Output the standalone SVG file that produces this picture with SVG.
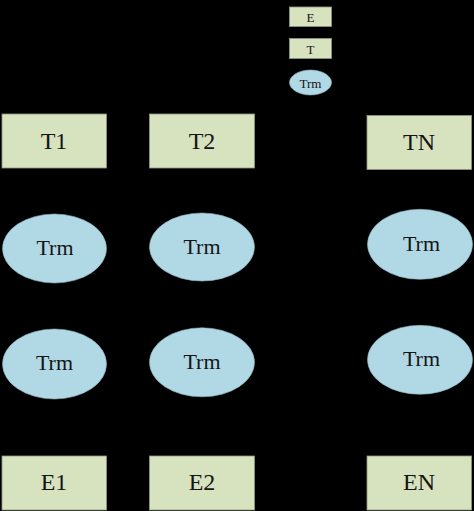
<svg xmlns="http://www.w3.org/2000/svg" width="474" height="511" viewBox="0 0 474 511">
<defs>
<marker id="ah" viewBox="0 0 10 10" refX="9" refY="5" markerWidth="7" markerHeight="7" orient="auto-start-reverse" markerUnits="userSpaceOnUse">
<path d="M0,1 L10,5 L0,9 z" fill="#000"/>
</marker>
<style>
.box{fill:#d7e2bf;stroke:#8f9a7a;stroke-width:0.8}
.trm{fill:#b1d9e5;stroke:#8fb3be;stroke-width:0.6}
.t{font-family:"Liberation Serif","Times New Roman",serif;fill:#151515;text-anchor:middle}
.big{font-size:24px}
.mid{font-size:22px}
.sm{font-size:13px}
.c{stroke:#000;stroke-width:1.2;fill:none;marker-end:url(#ah)}
</style>
</defs>
<rect x="0" y="0" width="474" height="511" fill="#000"/>
<g id="connectors">
<line class="c" x1="54" y1="456" x2="60" y2="400"/>
<line class="c" x1="54" y1="456" x2="207" y2="397"/>
<line class="c" x1="54" y1="456" x2="414" y2="395"/>
<line class="c" x1="202" y1="456" x2="60" y2="400"/>
<line class="c" x1="202" y1="456" x2="207" y2="397"/>
<line class="c" x1="202" y1="456" x2="414" y2="395"/>
<line class="c" x1="419" y1="456" x2="60" y2="400"/>
<line class="c" x1="419" y1="456" x2="207" y2="397"/>
<line class="c" x1="419" y1="456" x2="414" y2="395"/>
<line class="c" x1="54" y1="329" x2="60" y2="284"/>
<line class="c" x1="54" y1="329" x2="207" y2="282"/>
<line class="c" x1="54" y1="329" x2="414" y2="280"/>
<line class="c" x1="202" y1="328" x2="60" y2="284"/>
<line class="c" x1="202" y1="328" x2="207" y2="282"/>
<line class="c" x1="202" y1="328" x2="414" y2="280"/>
<line class="c" x1="420" y1="325" x2="60" y2="284"/>
<line class="c" x1="420" y1="325" x2="207" y2="282"/>
<line class="c" x1="420" y1="325" x2="414" y2="280"/>
<line class="c" x1="54" y1="214" x2="54" y2="169"/>
<line class="c" x1="202" y1="213" x2="202" y2="169"/>
<line class="c" x1="420" y1="209" x2="420" y2="170"/>
</g>
<g id="legend-E"><rect class="box" x="289.5" y="7" width="42" height="19.5"/><text class="t sm" x="310.5" y="21.5">E</text></g>
<g id="legend-T"><rect class="box" x="289.5" y="38.5" width="42" height="20"/><text class="t sm" x="310.5" y="53.5">T</text></g>
<g id="legend-Trm"><ellipse class="trm" cx="310.5" cy="82.5" rx="21" ry="12.5"/><text class="t sm" x="310.5" y="87.5">Trm</text></g>
<g id="T1"><rect class="box" x="2" y="114" width="104.5" height="54"/><text class="t big" x="54" y="149">T1</text></g>
<g id="T2"><rect class="box" x="149.5" y="114" width="105" height="54"/><text class="t big" x="202" y="149">T2</text></g>
<g id="TN"><rect class="box" x="367" y="115.5" width="104.5" height="54"/><text class="t big" x="419" y="150">TN</text></g>
<g id="Trm-1-1"><ellipse class="trm" cx="54.5" cy="248.5" rx="52" ry="34.5"/><text class="t mid" x="55" y="255">Trm</text></g>
<g id="Trm-1-2"><ellipse class="trm" cx="202" cy="247" rx="52.5" ry="34"/><text class="t mid" x="202" y="253.5">Trm</text></g>
<g id="Trm-1-N"><ellipse class="trm" cx="420" cy="244.3" rx="52.5" ry="35"/><text class="t mid" x="421.5" y="251">Trm</text></g>
<g id="Trm-2-1"><ellipse class="trm" cx="54.5" cy="364" rx="52" ry="35"/><text class="t mid" x="54.5" y="370">Trm</text></g>
<g id="Trm-2-2"><ellipse class="trm" cx="202" cy="362.3" rx="52.5" ry="34.5"/><text class="t mid" x="202" y="369">Trm</text></g>
<g id="Trm-2-N"><ellipse class="trm" cx="420" cy="359.8" rx="52.5" ry="34.5"/><text class="t mid" x="421.5" y="366">Trm</text></g>
<g id="E1"><rect class="box" x="2" y="456" width="104.5" height="54"/><text class="t big" x="54" y="490">E1</text></g>
<g id="E2"><rect class="box" x="149.5" y="456" width="105" height="54"/><text class="t big" x="202" y="490">E2</text></g>
<g id="EN"><rect class="box" x="367" y="456" width="104.5" height="54"/><text class="t big" x="419" y="490">EN</text></g>
</svg>
